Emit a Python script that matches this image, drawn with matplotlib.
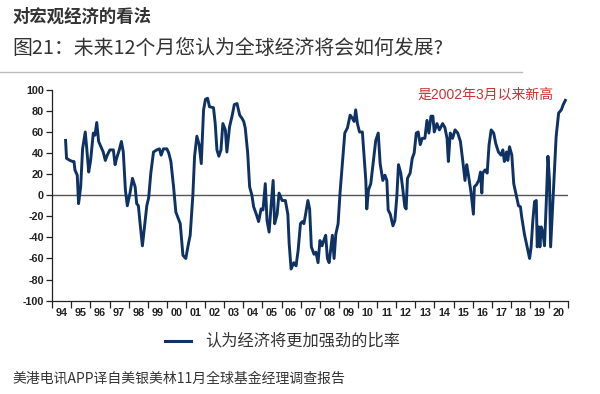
import numpy as np
import matplotlib.pyplot as plt
from matplotlib.lines import Line2D
from matplotlib.ticker import FixedLocator, NullFormatter, FixedFormatter

plt.rcParams['font.family'] = ['Noto Sans CJK SC', 'DejaVu Sans']

# series (decimal year, percent)
t = [1994.70, 1994.75, 1994.93, 1995.07, 1995.14, 1995.19, 1995.31, 1995.38, 1995.49, 1995.59,
     1995.73, 1995.80, 1995.91, 1996.01, 1996.15, 1996.24, 1996.33, 1996.43, 1996.55, 1996.67,
     1996.78, 1996.88, 1997.02, 1997.20, 1997.29, 1997.37, 1997.51, 1997.62, 1997.72, 1997.83,
     1997.93, 1998.07, 1998.20, 1998.34, 1998.42, 1998.51, 1998.60, 1998.72, 1998.83, 1998.95,
     1999.05, 1999.16, 1999.30, 1999.47, 1999.61, 1999.70, 1999.82, 2000.00, 2000.10, 2000.21,
     2000.35, 2000.47, 2000.70, 2000.84, 2000.99, 2001.13, 2001.22, 2001.36, 2001.45, 2001.57,
     2001.69, 2001.80, 2001.92, 2002.02, 2002.13, 2002.23, 2002.44, 2002.53, 2002.62, 2002.72,
     2002.83, 2002.93, 2003.06, 2003.14, 2003.28, 2003.41, 2003.53, 2003.67, 2003.81, 2003.93,
     2004.02, 2004.10, 2004.23, 2004.33, 2004.45, 2004.54, 2004.68, 2004.80, 2004.93, 2005.03,
     2005.15, 2005.24, 2005.35, 2005.45, 2005.56, 2005.64, 2005.77, 2005.87, 2006.03, 2006.20,
     2006.33, 2006.40, 2006.50, 2006.64, 2006.76, 2006.87, 2006.99,
     2007.09, 2007.17, 2007.26, 2007.38, 2007.47, 2007.56, 2007.70, 2007.80, 2007.91, 2008.01,
     2008.12, 2008.19, 2008.31, 2008.40, 2008.49, 2008.57, 2008.66, 2008.75, 2008.84, 2008.96,
     2009.06, 2009.19, 2009.31, 2009.45, 2009.59, 2009.71, 2009.80, 2009.88, 2009.97, 2010.08,
     2010.23, 2010.41, 2010.46, 2010.55, 2010.67, 2010.81, 2010.93, 2011.06, 2011.16, 2011.30,
     2011.41, 2011.51, 2011.58, 2011.69, 2011.83, 2011.93, 2012.03, 2012.12, 2012.24, 2012.35,
     2012.45, 2012.52, 2012.59, 2012.73, 2012.84, 2012.94, 2013.05, 2013.15, 2013.26, 2013.36,
     2013.50, 2013.61, 2013.71, 2013.82, 2013.92, 2013.99, 2014.13, 2014.26, 2014.43, 2014.55,
     2014.66, 2014.73, 2014.83, 2014.95, 2015.08, 2015.22, 2015.36, 2015.48, 2015.60, 2015.69,
     2015.78, 2015.92, 2016.04, 2016.09, 2016.20, 2016.32, 2016.41, 2016.48, 2016.53, 2016.65,
     2016.76, 2016.86, 2016.97, 2017.10, 2017.21, 2017.35, 2017.49, 2017.58, 2017.66, 2017.77,
     2017.84, 2017.93, 2018.05, 2018.15, 2018.28, 2018.40, 2018.50, 2018.57, 2018.71, 2018.85,
     2018.98, 2019.06, 2019.15, 2019.24, 2019.33, 2019.38, 2019.45, 2019.52, 2019.59, 2019.67,
     2019.76, 2019.85, 2019.94, 2020.02, 2020.08, 2020.15, 2020.23, 2020.37, 2020.50, 2020.64,
     2020.74, 2020.85]
pct = [52, 35, 33, 32, 32, 24, 19, -8, 8, 44,
       60, 46, 22, 33, 59, 57, 69, 51, 46, 41,
       33, 38, 43, 43, 29, 35, 43, 51, 41, 5,
       -10, 2, 16, 8, -8, -10, -27, -48, -30, -10,
       -2, 21, 41, 43, 44, 38, 44, 44, 40, 32,
       8, -16, -27, -57, -60, -46, -38, 0, 37, 56,
       48, 30, 81, 91, 92, 84, 83, 68, 43, 37,
       43, 68, 62, 41, 65, 75, 86, 87, 76, 73,
       70, 64, 40, 8, 0, -11, -18, -25, -13, -14,
       11, -24, -35, -11, 14, -27, -18, 2, -5, -5,
       -18, -46, -70, -64, -67, -52, -27,
       -25, -27, -18, -5, -13, -49, -56, -54, -64, -43,
       -48, -44, -38, -60, -64, -52, -38, -60, -37, -27,
       2, 32, 59, 64, 76, 73, 70, 81, 68, 60,
       60, 14, -13, 5, 11, 33, 52, 59, 30, 14,
       19, 14, -14, -18, -29, -24, -2, 29, 21, 5,
       -11, -13, 16, 21, 35, 40, 59, 60, 48, 54,
       54, 71, 59, 75, 75, 60, 68, 62, 68, 64,
       54, 32, 59, 54, 62, 59, 51, 33, 14, 29,
       19, 2, -18, 8, 10, 14, 22, 2, 21, 24,
       21, 48, 62, 59, 49, 41, 38, 43, 32, 41,
       33, 46, 38, 11, 0, -10, -11, -21, -37, -49,
       -60, -49, -24, -6, -5, -49, -30, -49, -30, -35,
       -48, -8, 37, 14, -49, -24, 5, 56, 78, 81,
       86, 90]

years = list(range(1994, 2022))
year_labels = ['94', '95', '96', '97', '98', '99', '00', '01', '02', '03', '04', '05', '06', '07',
               '08', '09', '10', '11', '12', '13', '14', '15', '16', '17', '18', '19', '20']
y_ticks = [100, 80, 60, 40, 20, 0, -20, -40, -60, -80, -100]

navy = '#0f3265'
txt = '#333333'
num_font = ['Liberation Sans', 'Noto Sans CJK SC']

fig = plt.figure(figsize=(6, 3.94), dpi=100)
ax = fig.add_axes([0.087, 0.237, 0.86, 0.535])

ax.axhline(0, color='#555555', lw=1.0, zorder=1)
ax.plot(t, pct, color=navy, lw=2.1, solid_joinstyle='round', zorder=2)

ax.set_xlim(years[0], years[-1])
ax.set_ylim(-100, 100)

for s in ['top', 'right']:
    ax.spines[s].set_visible(False)
for s in ['left', 'bottom']:
    ax.spines[s].set_color('#222222')
    ax.spines[s].set_linewidth(0.9)

ax.set_yticks(y_ticks)
ax.set_yticklabels([str(v) for v in y_ticks], family=num_font, fontweight='bold',
                   fontsize=7.8, color='#222222')
ax.tick_params(axis='y', length=4, width=0.9, color='#222222', pad=2)

ax.xaxis.set_major_locator(FixedLocator(years))
ax.xaxis.set_major_formatter(NullFormatter())
ax.xaxis.set_minor_locator(FixedLocator([y + 0.5 for y in years[:-1]]))
ax.xaxis.set_minor_formatter(FixedFormatter(year_labels))
ax.tick_params(axis='x', which='major', length=5, width=0.9, color='#222222')
ax.tick_params(axis='x', which='minor', length=0, pad=5)
for lab in ax.get_xticklabels(minor=True):
    lab.set_family(num_font)
    lab.set_fontweight('bold')
    lab.set_fontsize(7.8)
    lab.set_color('#222222')

ax.text(2020.22, 95, '是2002年3月以来新高', color='#cc3333', fontsize=10,
        family=num_font, ha='right', va='center')

fig.text(0.02, 0.957, '对宏观经济的看法', fontsize=12.5, fontweight='bold',
         color=txt, va='center')
fig.text(0.02, 0.878, '图21：未来12个月您认为全球经济将会如何发展?', fontsize=14.3,
         color=txt, va='center')
fig.add_artist(Line2D([0, 0.87], [0.817, 0.817], transform=fig.transFigure,
                      color='#bbbbbb', lw=1))

fig.add_artist(Line2D([0.275, 0.318], [0.135, 0.135], transform=fig.transFigure,
                      color=navy, lw=2.2))
fig.text(0.342, 0.135, '认为经济将更加强劲的比率', fontsize=11.7, color=txt, va='center')

fig.text(0.02, 0.04, '美港电讯APP译自美银美林11月全球基金经理调查报告', fontsize=10,
         color=txt, va='center')

fig.savefig('out.png', dpi=100)
